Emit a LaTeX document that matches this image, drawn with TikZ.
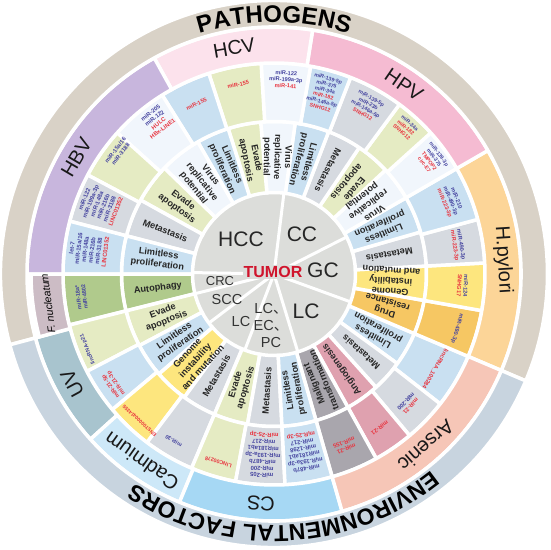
\documentclass[tikz,border=0pt]{standalone}
\usepackage{fontspec}
\setmainfont{Liberation Sans}
\newfontfamily\cjk{Noto Sans CJK SC}
\usetikzlibrary{decorations.text}

\definecolor{lp}{HTML}{C9E0F1}
\definecolor{met}{HTML}{D6DAE0}
\definecolor{ea}{HTML}{E5EBC3}
\definecolor{vrp}{HTML}{F1F6FC}
\definecolor{auto}{HTML}{B0CA8C}
\definecolor{gim}{HTML}{FDE67E}
\definecolor{dr}{HTML}{F6C763}
\definecolor{ang}{HTML}{DFA1AF}
\definecolor{mt}{HTML}{A9A6AD}
\definecolor{disk}{HTML}{DCDDDA}
\definecolor{hbv}{HTML}{C8B6DD}
\definecolor{hcv}{HTML}{FCE2EC}
\definecolor{hpv}{HTML}{F5BBD2}
\definecolor{hp}{HTML}{FCD598}
\definecolor{fnuc}{HTML}{CCBCC5}
\definecolor{uv}{HTML}{A8C4CE}
\definecolor{cad}{HTML}{CDE8F8}
\definecolor{cs}{HTML}{A6D8F4}
\definecolor{ars}{HTML}{F6C6B7}
\definecolor{pathring}{HTML}{D9D2C7}
\definecolor{envring}{HTML}{C8D4DF}
\definecolor{mirblue}{HTML}{45449F}
\definecolor{mirred}{HTML}{E8343F}
\definecolor{tumred}{HTML}{D0142C}

\newcommand{\mb}[1]{\textcolor{mirblue}{#1}}
\newcommand{\mr}[1]{\textcolor{mirred}{#1}}

\begin{document}
\begin{tikzpicture}[
  seg/.style={draw=white, line width=3.5pt},
  hallmark/.style={font=\bfseries\fontsize{9.2}{10.6}\selectfont, text=black!85, align=center, inner sep=0pt},
  mirna/.style={align=center, inner sep=0pt},
  factor/.style={font=\fontsize{20}{20}\selectfont, text=black!90, inner sep=0pt},
  tumbig/.style={font=\fontsize{21}{21}\selectfont, text=black!85, inner sep=0pt},
  tumsmall/.style={font=\fontsize{14.5}{17}\selectfont, text=black!80, align=center, inner sep=0pt},
]
  \useasboundingbox (-274pt,-276pt) rectangle (276pt,274pt);

  % 中心圆盘
  \fill[disk] (0,0) circle (81.5pt);

  % 第一圈：特征
  \foreach \ps/\pe/\col in {324/337/lp, 312/324/met, 299/312/ang, 286/299/mt,
      337/350/dr, 350/363/gim, 363/376/met, 376/390/lp,
      30/43/vrp, 43/56/ea, 56/69/met, 69/82/lp,
      82/95/vrp, 95/107.5/ea, 107.5/120/lp,
      120/136/vrp, 136/151/ea, 151/165.5/met, 165.5/180/lp,
      180/194/auto, 194/208/ea, 208/221/lp, 221/234/gim, 234/247/met,
      247/260/ea, 260/273/met, 273/286/lp}
    \path[seg, fill=\col] (\ps:81.5pt) arc (\ps:\pe:81.5pt) -- (\pe:152.5pt) arc (\pe:\ps:152.5pt) -- cycle;

  % 第二圈：miRNA
  \foreach \ps/\pe/\col in {322/337/lp, 310/322/met, 299/310/ang, 286/299/mt,
      337/350/dr, 350/363/gim, 363/375/met, 375/390/lp,
      30/42/vrp, 42/53.5/ea, 53.5/68.7/met, 68.7/80/lp,
      80/93.5/vrp, 93.5/108/ea, 108/122/lp,
      122/138/vrp, 138/152/ea, 152/165.5/met, 165.5/180/lp,
      180/194/auto, 194/207.5/ea, 207.5/220/lp, 220/233/gim, 233/247/met,
      247/259.5/ea, 259.5/273/met, 273/286/lp}
    \path[seg, fill=\col] (\ps:152.5pt) arc (\ps:\pe:152.5pt) -- (\pe:211pt) arc (\pe:\ps:211pt) -- cycle;

  % 第三圈：致病因素
  \foreach \ps/\pe/\col/\lab in {337/390/hp/H.pylori, 30/81/hpv/HPV, 81/119/hcv/HCV,
      119/180/hbv/HBV, 195/222/uv/UV, 222/247.5/cad/Cadmium, 247.5/286/cs/CS, 286/337/ars/Arsenic}{
    \path[seg, fill=\col] (\ps:211pt) arc (\ps:\pe:211pt) -- (\pe:247pt) arc (\pe:\ps:247pt) -- cycle;
    \pgfmathsetmacro\mid{(\ps+\pe)/2}
    \node[factor, rotate=\mid-90] at (\mid:229.5pt) {\lab};
  }
  \path[seg, fill=fnuc] (180:211pt) arc (180:195:211pt) -- (195:243pt) arc (195:180:243pt) -- cycle;
  \node[font=\itshape\fontsize{10.5}{10.5}\selectfont, rotate=97.4, inner sep=0pt] (fnuc) at (187.4:228pt) {F. nucleatum};

  % 外圈
  \path[seg, fill=pathring] (337:247pt) arc (337:555:247pt) -- (555:273.5pt) arc (555:337:273.5pt) -- cycle;
  \path[seg, fill=envring] (195:247pt) arc (195:337:247pt) -- (337:273.5pt) arc (337:195:273.5pt) -- cycle;
  \path[decorate, decoration={text along path, text align=center,
    text={|\bfseries\fontsize{24}{24}\selectfont|PATHOGENS}}] (150:251.5pt) arc (150:30:251.5pt);
  \path[decorate, decoration={text along path, text align=center,
    text={|\bfseries\fontsize{23}{23}\selectfont|ENVIRONMENTAL FACTORS}}] (-20:251.5pt) arc (-20:-155:251.5pt);

  % 特征标签
  \foreach \mid/\lab in {330.5/{Limitless\\proliferation}, 318/Metastasis, 305.5/Angiogenesis,
      292.5/{Malignant\\transformation}, 343.5/{Drug\\resistance}, 356.5/{Genome\\instability\\and mutation},
      9.5/Metastasis, 23/{Limitless\\proliferation}, 36.5/{Virus\\replicative\\potential},
      49.5/{Evade\\apoptosis}, 62.5/Metastasis, 75.5/{Limitless\\proliferation},
      88.5/{Virus\\replicative\\potential}, 101.25/{Evade\\apoptosis}, 113.75/{Limitless\\proliferation},
      128/{Virus\\replicative\\potential}, 143.5/{Evade\\apoptosis}, 158.3/Metastasis,
      172.7/{Limitless\\proliferation}, 187/Autophagy, 201/{Evade\\apoptosis},
      214.5/{Limitless\\proliferation}, 227.5/{Genome\\instability\\and mutation}, 240.5/Metastasis,
      253.5/{Evade\\apoptosis}, 266.5/Metastasis, 279.5/{Limitless\\proliferation}}
    \node[hallmark, rotate=\mid+180] at (\mid:117pt) {\lab};

  % miRNA 标签
  \foreach \mid/\rad/\fs/\lab in {
      329.5/187/5.8/{\mr{lincRNA\_100284}},
      316/187/5.8/{\mr{miR-21}\\\mb{miR-200}},
      304.5/187/5.8/{\mr{miR-21}},
      292.5/186/5.8/{\mr{miR-21}\\\mr{miR-155}},
      343.5/191/5.6/{\mb{miR-490-3p}},
      356.5/189/5.6/{\mb{miR-124}\\\mr{SNHG17}},
      9/186/5.6/{\mb{miR-490-3p}\\\mr{miR-223-3p}},
      22.5/191/5.6/{\mb{miR-210}\\\mb{miR-490-3p}\\\mr{miR-223-3p}},
      36/195/5.3/{\mb{miR-139-3p}\\\mb{miR-375}\\\mr{TMPOP2}\\\mr{circ-E7}},
      48/197/5.3/{\mb{miR-34a}\\\mr{miR-182}\\\mr{SNHG12}},
      61/192/5.3/{\mb{miR-139-5p}\\\mb{miR-23b}\\\mb{miR-146a-5p}\\\mr{SNHG12}},
      74.5/188/5.3/{\mb{miR-139-5p}\\\mb{miR-375}\\\mb{miR-34a}\\\mr{miR-182}\\\mb{miR-146a-5p}\\\mr{SNHG12}},
      86.5/195/5.6/{\mb{miR-122}\\\mb{miR-199a-3p}\\\mr{miR-141}},
      100.7/193/5.6/{\mr{miR-155}},
      114.5/187/5.6/{\mr{miR-155}},
      127.5/193/5.8/{\mb{miR-205}\\\mb{miR-122}\\\mr{HULC}\\\mr{HBx-LINE1}},
      142/198/5.8/{\mb{miR-15a/16}\\\mb{miR-3188}},
      158.5/187/5.9/{\mb{miR-122}\\\mb{miR-199a-3p}\\\mb{miR-148a}\\\mb{miR-216b}\\\mb{miR-3188}\\\mr{LINC01352}},
      172.6/187/5.9/{\mb{let-7}\\\mb{miR-15a/16}\\\mb{miR-148a}\\\mb{miR-216b}\\\mb{miR-3188}\\\mr{LINC01352}},
      186.8/194/5.6/{\mb{miR-18a*}\\\mb{miR-4802}},
      202/201/5.4/{\mb{lincRNA-p21}},
      214.6/195/5.6/{\mr{miR-21-5p}\\\mr{miR-21-3p}},
      227.5/199/5/{\mr{ENST00000414355}},
      239/195/5.4/{\mb{miR-30}},
      253.5/196/5.4/{\mr{LINC00278}},
      266.5/181/5.9/{\mb{miR-205}\\\mb{miR-200}\\\mb{miR-487b}\\\mb{miR-193a-3p}\\\mb{miR181ab1}\\\mb{miR-217}\\\mr{miR-25-3p}},
      279.5/180/5.9/{\mb{miR-487b}\\\mb{miR-193a-3p}\\\mb{miR181ab1}\\\mb{miR-1298}\\\mb{miR-217}\\\mr{miR-25-3p}}}{
    \pgfmathsetmacro\lsk{\fs*1.14}
    \node[mirna, font=\bfseries\fontsize{\fs}{\lsk}\selectfont, rotate=\mid-90] at (\mid:\rad pt) {\lab};
  }

  % 中心分隔线
  \foreach \ang in {83,27,-20,-73,-111,-143,-166,179}
    \draw[white, line width=3pt] (0,0) -- (\ang:82pt);

  \node[tumbig] (hcc) at (-33pt,35pt) {HCC};
  \node[tumbig] (cc) at (28pt,40pt) {CC};
  \node[tumbig] (gc) at (49pt,4pt) {GC};
  \node[tumbig] (lcr) at (32pt,-37pt) {LC};
  \node[tumsmall] (lep) at (-3pt,-52pt) {LC{\cjk 、}\\EC{\cjk 、}\\PC};
  \node[tumsmall] (lcl) at (-33pt,-48pt) {LC};
  \node[tumsmall] (scc) at (-47pt,-26pt) {SCC};
  \node[tumsmall, font=\fontsize{13}{13}\selectfont] (crc) at (-54pt,-7pt) {CRC};
  \node[font=\bfseries\fontsize{16}{16}\selectfont, text=tumred, fill=disk, inner sep=1pt] (tumor) at (-1pt,2pt) {TUMOR};
\end{tikzpicture}
\end{document}
